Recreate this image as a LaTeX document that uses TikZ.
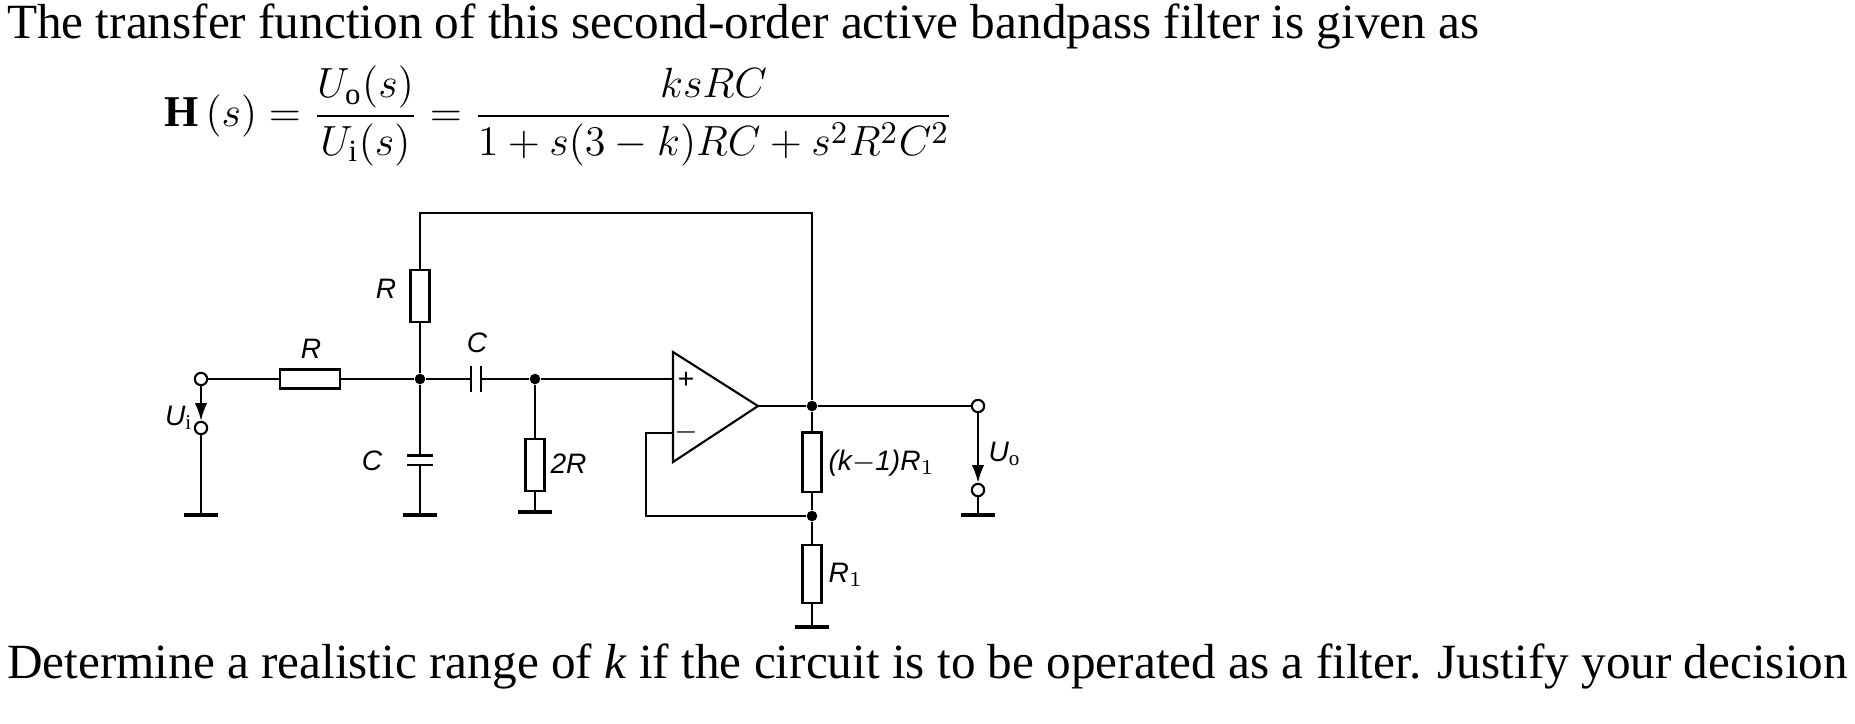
\documentclass[tikz,border=0pt]{standalone}
\usepackage{fontspec}
\usepackage{amsmath}
\setmainfont{Liberation Serif}
\newfontfamily\cirfont{Liberation Sans}
\usetikzlibrary{arrows.meta}
\begin{document}
\begin{tikzpicture}[x=0.01cm, y=-0.01cm, line width=0.6pt]
\tikzstyle{res} = [draw, rectangle, fill=white, inner sep=0pt]
\tikzstyle{hres} = [res, minimum width=17pt, minimum height=5.4pt]
\tikzstyle{vres} = [res, minimum width=5.4pt, minimum height=14.8pt]
\tikzstyle{term} = [draw, circle, fill=white, inner sep=0pt, minimum size=3.5pt]
\tikzstyle{dot} = [circle, fill=black, inner sep=0pt, minimum size=3pt]
\tikzstyle{gnd} = [inner sep=0pt, minimum width=9pt, minimum height=0pt]
\tikzstyle{lbl} = [font=\cirfont\itshape\fontsize{8}{8}\selectfont, inner sep=1pt]
\tikzstyle{txt} = [font=\fontsize{14}{16}\selectfont, anchor=base west, inner sep=0pt]
\useasboundingbox (0,0) rectangle (1855,723);

% text
\node[txt] (title) at (6,38) {The transfer function of this second-order active bandpass filter is given as};
\node[font=\fontsize{12.5}{15}\selectfont] (eq) at (559,116)
  {$\mathbf{H}\left(s\right)=\dfrac{U_{\mathrm{o}}(s)}{U_{\mathrm{i}}(s)}=\dfrac{ksRC}{1+s(3-k)RC+s^2R^2C^2}$};
\node[txt] (ask) at (6,678) {Determine a realistic range of \textit{k} if the circuit is to be operated as a filter. Justify your decision};

% nodes
\node[term] (ina) at (201,379) {};
\node[term] (inb) at (201,428) {};
\node[hres] (r1) at (310,379) {};
\node[vres] (r2) at (420,296) {};
\node[dot] (n1) at (420,379) {};
\node[inner sep=0pt, minimum width=2pt, minimum height=6.8pt] (c1) at (476,379) {};
\node[dot] (n2) at (535,379) {};
\node[inner sep=0pt, minimum width=6.8pt, minimum height=2pt] (c2) at (420,460) {};
\node[vres] (r3) at (535,465) {};
\node[vres, minimum height=16.8pt] (rk) at (812,462) {};
\node[vres, minimum height=16.5pt] (rb) at (812,574) {};
\node[dot] (n3) at (812,406) {};
\node[dot] (n4) at (812,516) {};
\node[term] (outa) at (978,406) {};
\node[term] (outb) at (978,490) {};
\node[gnd] (g1) at (201,515) {};
\node[gnd] (g2) at (420,515) {};
\node[gnd] (g3) at (535,512) {};
\node[gnd] (g4) at (812,627) {};
\node[gnd] (g5) at (978,515) {};
\coordinate (tl) at (420,213);
\coordinate (tr) at (812,213);

% op amp
\coordinate (oa) at (673,352);
\coordinate (ob) at (673,462);
\coordinate (oc) at (758,406);
\coordinate (ip) at (673,379);
\coordinate (im) at (673,433);
\coordinate (fb) at (646,516);
\draw (oa) -- (oc) -- (ob) -- cycle;
\node[font=\cirfont\fontsize{8}{8}\selectfont] (plus) at (686,380) {+};
\node[font=\cirfont\fontsize{8}{8}\selectfont] (minus) at (686,432) {$-$};

% wires
\draw (ina) -- (r1) -- (n1) -- (c1.west);
\draw (c1.east) -- (n2) -- (ip);
\draw (n1) -- (r2) -- (tl) -- (tr) -- (n3);
\draw (n1) -- (c2.north);
\draw (c2.south) -- (g2.center);
\draw (n2) -- (r3) -- (g3.center);
\draw (oc) -- (n3) -- (outa);
\draw (n3) -- (rk) -- (n4) -- (rb) -- (g4.center);
\draw (im) -| (fb) |- (n4);
\draw (inb) -- (g1.center);
\draw (outb) -- (g5.center);
\draw (c1.north west) -- (c1.south west) (c1.north east) -- (c1.south east);
\draw (c2.north west) -- (c2.north east) (c2.south west) -- (c2.south east);
\draw[line width=0.9pt] (g1.west) -- (g1.east) (g2.west) -- (g2.east) (g3.west) -- (g3.east)
  (g4.west) -- (g4.east) (g5.west) -- (g5.east);
\draw[-{Latex[length=5pt,width=3.5pt]}] (ina) -- (inb);
\draw[-{Latex[length=5pt,width=3.5pt]}] (outa) -- (outb);

% labels
\node[lbl] at (386,289) {R};
\node[lbl] at (311,349) {R};
\node[lbl] at (477,343) {C};
\node[lbl] at (372,461) {C};
\node[lbl, anchor=west] at (546,464) {2R};
\node[lbl, anchor=west] at (824,463) {(k$-$1)R$_1$};
\node[lbl, anchor=west] at (824,575) {R$_1$};
\node[lbl] at (179,418) {U$_\mathrm{i}$};
\node[lbl, anchor=west] at (984,454) {U$_\mathrm{o}$};
\end{tikzpicture}
\end{document}
